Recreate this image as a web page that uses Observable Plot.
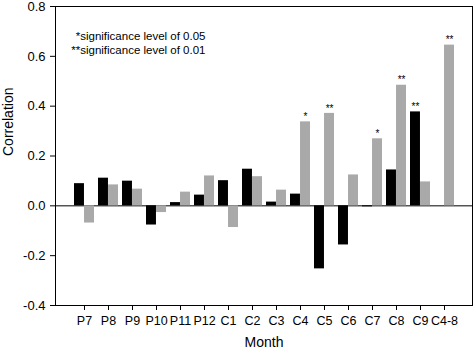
<!DOCTYPE html>
<html><head><meta charset="utf-8">
<script src="https://cdn.jsdelivr.net/npm/d3@7"></script>
<script src="https://cdn.jsdelivr.net/npm/@observablehq/plot@0.6"></script>
<style>body{margin:0;background:#fff;font-family:Arial,"Liberation Sans",sans-serif;}</style>
</head><body><div id="chart"></div>
<script>
const months = ["P7","P8","P9","P10","P11","P12","C1","C2","C3","C4","C5","C6","C7","C8","C9","C4-8"];
const blackValues = [0.089,0.111,0.099,-0.077,0.013,0.043,0.101,0.147,0.015,0.047,-0.253,-0.157,-0.004,0.144,0.377,0];
const grayValues  = [-0.069,0.084,0.067,-0.027,0.055,0.120,-0.087,0.117,0.063,0.337,0.371,0.124,0.269,0.484,0.096,0.645];
const blackStars = ["","","","","","","","","","","","","","","**",""];
const grayStars  = ["","","","","","","","","","*","**","","*","**","","**"];
const yTicks = [-0.4,-0.2,0,0.2,0.4,0.6,0.8];
const noteLines = ["*significance level of 0.05","**significance level of 0.01"];

const black = months.map((m,i)=>({month:m,value:blackValues[i],star:blackStars[i]}));
const gray = months.map((m,i)=>({month:m,value:grayValues[i],star:grayStars[i]}));

const W = 474, H = 353, mL = 55, mR = 2, mT = 6, mB = 48;
const pIn = 0.18, pOut = 0.61;
const step = (W - mL - mR) / (months.length - pIn + 2*pOut);
const half = step * (1 - pIn) / 2;

const chart = Plot.plot({
  width: W, height: H,
  marginLeft: mL, marginRight: mR, marginTop: mT, marginBottom: mB,
  style: {fontFamily: "Arial, 'Liberation Sans', sans-serif", fontSize: "13px", color: "#000", background: "#fff"},
  x: {domain: months, paddingInner: pIn, paddingOuter: pOut, label: null},
  y: {domain: [-0.4, 0.8], label: null},
  marks: [
    Plot.frame({stroke: "#000", strokeWidth: 1}),
    Plot.ruleY([0], {stroke: "#000", strokeWidth: 1}),
    Plot.barY(black, {x: "month", y: "value", fill: "#000", insetLeft: 0, insetRight: half}),
    Plot.barY(gray, {x: "month", y: "value", fill: "#a9a9a9", insetLeft: half, insetRight: 0}),
    Plot.text(black.filter(d=>d.star), {x: "month", y: "value", text: "star", dx: -half/2, dy: -5, fontSize: 10}),
    Plot.text(gray.filter(d=>d.star), {x: "month", y: "value", text: "star", dx: half/2, dy: -5, fontSize: 10}),
    Plot.axisY({ticks: yTicks, tickFormat: d => d.toFixed(1), tickSize: 5, tickPadding: 5, fontSize: 13, label: null}),
    Plot.axisX({tickSize: 5, tickPadding: 6, fontSize: 12.5, label: null}),
    Plot.text([noteLines[0]], {frameAnchor: "top-left", dx: 150, dy: 25.5, textAnchor: "end", fontSize: 11.5}),
    Plot.text([noteLines[1]], {frameAnchor: "top-left", dx: 150, dy: 39, textAnchor: "end", fontSize: 11.5}),
    Plot.text(["Month"], {frameAnchor: "bottom", dy: 41, fontSize: 14}),
    Plot.text(["Correlation"], {frameAnchor: "left", dx: -47, rotate: -90, fontSize: 14})
  ]
});
document.getElementById("chart").appendChild(chart);
</script></body></html>
